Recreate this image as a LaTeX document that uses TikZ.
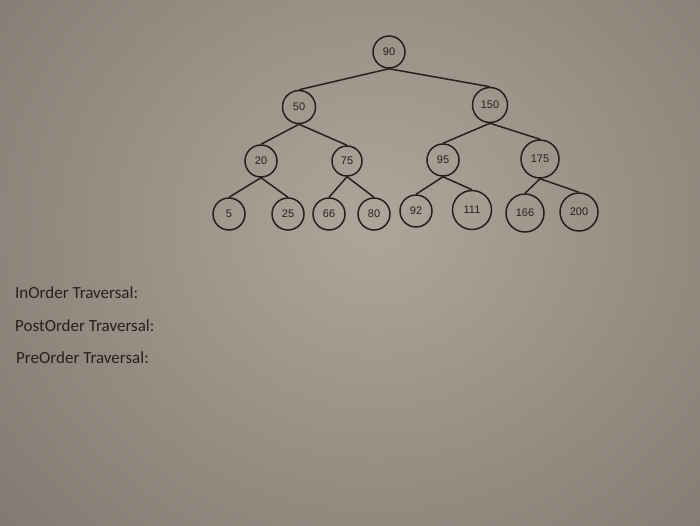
\documentclass[tikz,border=0pt]{standalone}
\usepackage{fontspec}
\setmainfont{Carlito}
\newfontfamily\arialf{Liberation Sans}
\definecolor{ink}{RGB}{38,33,30}
\definecolor{paperhi}{RGB}{176,165,154}
\definecolor{paperlo}{RGB}{130,119,110}
\begin{document}
\begin{tikzpicture}[x=1pt,y=-1pt,
  tn/.style={circle, draw=ink, line width=1.5pt, minimum size=#1, inner sep=0pt,
    font=\arialf\fontsize{11}{11}\selectfont, text=ink},
  tn/.default=32pt,
  edge/.style={draw=ink, line width=1.5pt},
  lbl/.style={anchor=base west, inner sep=0pt, font=\fontsize{17}{19}\selectfont, text=ink}]
\useasboundingbox (0,0) rectangle (700,525);
\shade[inner color=paperhi, outer color=paperlo] (-150,-250) rectangle (900,700);
% tree nodes
\node[tn] (n90) at (389,52) {90};
\node[tn=33pt] (n50) at (299,107) {50};
\node[tn=35pt] (n150) at (490,105) {150};
\node[tn] (n20) at (261,161) {20};
\node[tn=30pt] (n75) at (347,161) {75};
\node[tn] (n95) at (443,160) {95};
\node[tn=38pt] (n175) at (540,159) {175};
\node[tn] (n5) at (229,214) {5};
\node[tn] (n25) at (288,214) {25};
\node[tn] (n66) at (329,214) {66};
\node[tn] (n80) at (374,214) {80};
\node[tn] (n92) at (416,211) {92};
\node[tn=39pt] (n111) at (472,210) {111};
\node[tn=38pt] (n166) at (525,213) {166};
\node[tn=38pt] (n200) at (579,212) {200};
% edges
\draw[edge] (n90.south) -- (n50.north);
\draw[edge] (n90.south) -- (n150.north);
\draw[edge] (n50.south) -- (n20.north);
\draw[edge] (n50.south) -- (n75.north);
\draw[edge] (n150.south) -- (n95.north);
\draw[edge] (n150.south) -- (n175.north);
\draw[edge] (n20.south) -- (n5.north);
\draw[edge] (n20.south) -- (n25.north);
\draw[edge] (n75.south) -- (n66.north);
\draw[edge] (n75.south) -- (n80.north);
\draw[edge] (n95.south) -- (n92.north);
\draw[edge] (n95.south) -- (n111.north);
\draw[edge] (n175.south) -- (n166.north);
\draw[edge] (n175.south) -- (n200.north);
% labels
\node[lbl] (t1) at (15,298) {InOrder Traversal:};
\node[lbl] (t2) at (15,331) {PostOrder Traversal:};
\node[lbl] (t3) at (16,363) {PreOrder Traversal:};
\end{tikzpicture}
\end{document}
